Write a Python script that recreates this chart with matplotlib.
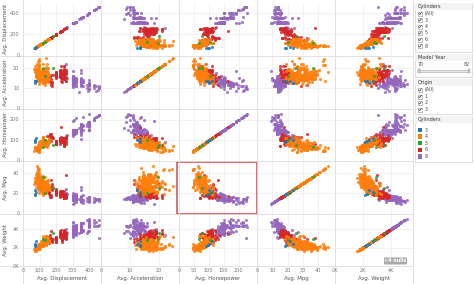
import matplotlib
matplotlib.use("Agg")
import matplotlib.pyplot as plt
from matplotlib.patches import Rectangle, FancyBboxPatch

# ---- data: (displacement, horsepower, weight, acceleration, mpg) per cylinder group ----
cars_3 = [(70, 97, 2330, 13.5, 19), (70, 90, 2124, 13.5, 18), (80, 110, 2720, 13.5, 21.5),
          (70, 100, 2420, 12.5, 23.7)]
cars_5 = [(131, 103, 2830, 15.9, 20.3), (183, 77, 3530, 20.1, 25.4), (121, 67, 2950, 19.9, 36.4)]
cars_8 = [
    (307, 130, 3504, 12.0, 18), (350, 165, 3693, 11.5, 15), (318, 150, 3436, 11.0, 18),
    (304, 150, 3433, 12.0, 16), (302, 140, 3449, 10.5, 17), (429, 198, 4341, 10.0, 15),
    (454, 220, 4354, 9.0, 14), (440, 215, 4312, 8.5, 14), (455, 225, 4425, 10.0, 14),
    (390, 190, 3850, 8.5, 15), (383, 170, 3563, 10.0, 15), (340, 160, 3609, 8.0, 14),
    (400, 150, 3761, 9.5, 15), (455, 225, 3086, 10.0, 14), (360, 215, 4615, 14.0, 10),
    (307, 200, 4376, 15.0, 10), (318, 210, 4382, 13.5, 11), (304, 193, 4732, 18.5, 9),
    (350, 165, 4209, 12.0, 14), (400, 175, 4464, 11.5, 14), (351, 153, 4154, 13.5, 14),
    (318, 150, 4096, 13.0, 14), (383, 180, 4955, 11.5, 12), (400, 170, 4746, 12.0, 13),
    (400, 175, 5140, 12.0, 13), (350, 165, 4274, 12.0, 13), (400, 175, 4385, 12.0, 14),
    (318, 150, 4135, 13.5, 15), (351, 153, 4129, 13.0, 14), (304, 150, 3672, 11.5, 17),
    (429, 208, 4633, 11.0, 11), (350, 155, 4502, 13.5, 13), (350, 160, 4456, 13.5, 12),
    (400, 190, 4422, 12.5, 13), (304, 150, 3892, 12.5, 15), (307, 130, 4098, 14.0, 13),
    (302, 140, 4294, 16.0, 13), (318, 150, 4077, 14.0, 14), (350, 175, 4100, 13.0, 13),
    (304, 150, 3672, 11.5, 14), (350, 145, 3988, 13.0, 13), (302, 137, 4042, 14.5, 14),
    (318, 150, 3777, 12.5, 15), (429, 198, 4952, 11.5, 12), (400, 150, 4464, 12.0, 13),
    (351, 158, 4363, 13.0, 13), (318, 150, 4237, 14.5, 14), (440, 215, 4735, 11.0, 13),
    (455, 225, 4951, 11.0, 12), (360, 175, 3821, 11.0, 13), (400, 150, 4997, 14.0, 11),
    (400, 167, 4906, 12.5, 12), (360, 170, 4654, 13.0, 13), (350, 180, 4499, 12.5, 12),
    (350, 145, 4082, 13.0, 15), (400, 230, 4278, 9.5, 16), (318, 150, 3399, 11.0, 15),
    (350, 180, 3664, 11.0, 11), (302, 140, 4141, 14.0, 16), (350, 150, 4699, 14.5, 13),
    (318, 150, 4457, 13.5, 14), (302, 140, 4638, 16.0, 14), (304, 150, 4257, 15.5, 14),
    (400, 170, 4668, 11.5, 16), (350, 145, 4440, 14.0, 15), (318, 150, 4498, 14.5, 16),
    (351, 148, 4657, 13.5, 14), (262, 110, 3221, 13.5, 20), (302, 129, 3169, 12.0, 13),
    (305, 140, 4215, 13.0, 17.5), (318, 150, 4190, 13.0, 16), (304, 120, 3962, 13.9, 15.5),
    (351, 152, 4215, 12.8, 14.5), (318, 150, 3940, 13.2, 13), (350, 180, 4380, 12.1, 16.5),
    (350, 145, 4055, 12.0, 13), (302, 130, 3870, 15.0, 13), (318, 150, 3755, 14.0, 13),
    (305, 145, 3880, 12.5, 17.5), (260, 110, 4060, 19.0, 17), (318, 145, 4140, 13.7, 15.5),
    (302, 130, 4295, 14.9, 15), (400, 180, 4220, 11.1, 16), (350, 170, 4165, 11.4, 15.5),
    (400, 190, 4325, 12.2, 15.5), (351, 149, 4335, 14.5, 16), (260, 110, 3365, 15.5, 19.9),
    (318, 140, 3735, 13.2, 19.4), (302, 139, 3570, 12.8, 20.2), (305, 145, 3425, 13.2, 19.2),
    (302, 139, 3205, 11.2, 18.1), (318, 140, 4080, 13.7, 17.5), (305, 130, 3840, 15.4, 17),
    (302, 129, 3725, 13.4, 17.6), (351, 138, 3955, 13.2, 16.5), (318, 135, 3830, 15.2, 18.2),
    (350, 155, 4360, 14.9, 16.9), (351, 142, 4054, 14.3, 15.5), (267, 125, 3605, 15.0, 19.2),
    (360, 150, 3940, 13.0, 18.5), (350, 125, 3900, 17.4, 23), (260, 90, 3420, 22.2, 23.9),
    (350, 105, 3725, 19.0, 26.6),
]
cars_6 = [
    (198, 95, 2833, 15.5, 22), (199, 97, 2774, 15.5, 18), (200, 85, 2587, 16.0, 21),
    (199, 90, 2648, 15.0, 21), (232, 100, 2634, 13.0, 19), (225, 105, 3439, 15.5, 16),
    (250, 100, 3329, 15.5, 17), (250, 88, 3302, 15.5, 19), (232, 100, 3288, 15.5, 18),
    (258, 110, 2962, 13.5, 18), (250, 100, 3282, 15.0, 19), (250, 88, 3139, 14.5, 18),
    (225, 105, 3121, 16.5, 18), (250, 100, 3278, 18.0, 16), (232, 100, 2945, 16.0, 18),
    (250, 88, 3021, 16.5, 18), (198, 95, 2904, 16.0, 23), (232, 100, 2789, 15.0, 18),
    (155, 107, 2472, 14.0, 21), (156, 122, 2807, 13.5, 20), (198, 95, 3102, 16.5, 20),
    (232, 100, 2901, 16.0, 19), (250, 100, 3336, 17.0, 15), (250, 100, 3781, 17.0, 16),
    (258, 110, 3632, 18.0, 16), (225, 105, 3613, 16.5, 18), (225, 95, 3264, 16.0, 19),
    (250, 105, 3459, 16.0, 18), (250, 72, 3432, 21.0, 15), (250, 72, 3158, 19.5, 15),
    (231, 110, 3907, 21.0, 17), (250, 105, 3897, 18.5, 16), (258, 110, 3730, 19.0, 15),
    (225, 95, 3785, 19.0, 18), (231, 110, 3039, 15.0, 21), (232, 100, 2914, 16.0, 20),
    (171, 97, 2984, 14.5, 18), (232, 90, 3211, 17.0, 19), (225, 100, 3233, 15.4, 22),
    (250, 105, 3353, 14.5, 22), (200, 81, 3012, 17.6, 24), (232, 90, 3085, 17.6, 22.5),
    (225, 100, 3651, 17.7, 20), (250, 78, 3574, 21.0, 18), (250, 110, 3645, 16.2, 18.5),
    (258, 95, 3193, 17.8, 17.5), (156, 108, 2930, 15.5, 19), (168, 120, 3820, 16.7, 16.5),
    (250, 110, 3520, 16.4, 17.5), (231, 105, 3425, 16.9, 20.5), (225, 100, 3630, 17.7, 19),
    (250, 98, 3525, 19.0, 18.5), (146, 97, 2815, 14.5, 22), (231, 105, 3535, 19.2, 19.2),
    (200, 95, 3155, 18.2, 20.5), (200, 85, 2965, 15.8, 20.2), (225, 100, 3430, 17.2, 20.5),
    (232, 90, 3210, 17.2, 19.4), (231, 105, 3380, 15.8, 20.6), (200, 85, 3070, 16.7, 20.8),
    (225, 110, 3620, 18.7, 18.6), (258, 120, 3410, 15.1, 18.1), (231, 165, 3445, 13.4, 17.7),
    (163, 125, 3140, 13.6, 17), (163, 133, 3410, 15.8, 16.2), (231, 115, 3245, 15.4, 21.5),
    (200, 85, 2990, 18.2, 19.8), (232, 90, 3265, 18.2, 20.2), (225, 110, 3360, 16.6, 20.6),
    (173, 115, 2595, 11.3, 28.8), (173, 115, 2700, 12.9, 26.8), (225, 90, 3381, 18.7, 19.1),
    (168, 132, 2910, 11.4, 32.7), (173, 110, 2725, 12.6, 23.5), (145, 76, 3160, 19.6, 30.7),
    (168, 116, 2900, 12.6, 25.4), (146, 120, 2930, 13.8, 24.2), (231, 110, 3415, 15.8, 22.4),
    (200, 88, 3060, 17.1, 20.2), (225, 85, 3465, 16.6, 17.6), (181, 110, 2945, 16.4, 25),
    (262, 85, 3015, 17.0, 38), (232, 112, 2835, 14.7, 22),
]
cars_4 = [
    (113, 95, 2372, 15.0, 24), (97, 88, 2130, 14.5, 27), (97, 46, 1835, 20.5, 26),
    (110, 87, 2672, 17.5, 25), (107, 90, 2430, 14.5, 24), (104, 95, 2375, 17.5, 25),
    (121, 113, 2234, 12.5, 26), (97, 88, 2130, 14.5, 27), (140, 90, 2264, 15.5, 28),
    (113, 95, 2228, 14.0, 25), (140, 72, 2408, 19.0, 22), (122, 86, 2220, 14.0, 23),
    (116, 90, 2123, 14.0, 28), (79, 70, 2074, 19.5, 30), (88, 76, 2065, 14.5, 30),
    (71, 65, 1773, 19.0, 31), (72, 69, 1613, 18.0, 35), (97, 60, 1834, 19.0, 27),
    (91, 70, 1955, 20.5, 26), (113, 95, 2278, 15.5, 24), (97.5, 80, 2126, 17.0, 25),
    (97, 54, 2254, 23.5, 23), (140, 90, 2408, 19.5, 20), (122, 86, 2226, 16.5, 21),
    (121, 112, 2933, 14.5, 18), (121, 76, 2511, 18.0, 22), (120, 87, 2979, 19.5, 21),
    (96, 69, 2189, 18.0, 26), (122, 86, 2395, 16.0, 22), (97, 92, 2288, 17.0, 28),
    (120, 97, 2506, 14.5, 23), (98, 80, 2164, 15.0, 28), (97, 88, 2100, 16.5, 27),
    (97, 46, 1950, 21.0, 26), (97, 88, 2279, 19.0, 20), (140, 72, 2401, 19.5, 21),
    (108, 94, 2379, 16.5, 22), (122, 85, 2310, 18.5, 19), (98, 90, 2265, 15.5, 26),
    (68, 49, 1867, 19.5, 29), (116, 75, 2158, 15.5, 24), (114, 91, 2582, 14.0, 20),
    (121, 112, 2868, 15.5, 19), (121, 110, 2660, 14.0, 24), (79, 67, 1950, 19.0, 31),
    (122, 80, 2451, 16.5, 26), (71, 65, 1836, 21.0, 32), (140, 75, 2542, 17.0, 25),
    (98, 83, 2219, 16.5, 29), (79, 67, 1963, 15.5, 26), (97, 78, 2300, 14.5, 26),
    (76, 52, 1649, 16.5, 31), (83, 61, 2003, 19.0, 32), (90, 75, 2125, 14.5, 28),
    (90, 75, 2108, 15.5, 24), (116, 75, 2246, 14.0, 26), (120, 97, 2489, 15.0, 24),
    (108, 93, 2391, 15.5, 26), (79, 67, 2000, 16.0, 31), (97, 75, 2171, 16.0, 29),
    (140, 83, 2639, 17.0, 23), (140, 78, 2592, 18.5, 23), (134, 96, 2702, 13.5, 24),
    (90, 71, 2223, 16.5, 25), (119, 97, 2545, 17.0, 24), (90, 70, 1937, 14.0, 29),
    (115, 95, 2694, 15.0, 23), (120, 88, 2957, 17.0, 23), (121, 98, 2945, 14.5, 22),
    (121, 115, 2671, 13.5, 25), (91, 53, 1795, 17.5, 33), (107, 86, 2464, 15.5, 28),
    (116, 81, 2220, 16.9, 25), (140, 92, 2572, 14.9, 25), (98, 79, 2255, 17.7, 26),
    (101, 83, 2202, 15.3, 27), (85, 52, 2035, 22.2, 29), (98, 60, 2164, 22.1, 24.5),
    (90, 70, 1937, 14.2, 29), (91, 53, 1795, 17.4, 33), (97, 71, 1825, 12.2, 29.5),
    (85, 70, 1990, 17.0, 32), (97, 75, 2155, 16.4, 28), (140, 72, 2565, 13.6, 26.5),
    (130, 102, 3150, 15.7, 20), (120, 88, 3270, 21.9, 19), (98, 68, 2045, 18.5, 31.5),
    (111, 80, 2155, 14.8, 30), (79, 58, 1825, 18.6, 36), (122, 96, 2300, 15.5, 25.5),
    (85, 70, 1945, 16.8, 33.5), (97, 78, 1940, 14.5, 29), (151, 88, 2740, 16.0, 24.5),
    (97, 75, 2265, 18.2, 26), (140, 89, 2755, 15.8, 25.5), (98, 63, 2051, 17.0, 30.5),
    (98, 83, 2075, 15.9, 33.5), (97, 67, 1985, 16.4, 30), (97, 78, 2190, 14.1, 30.5),
    (121, 110, 2600, 12.8, 21.5), (90, 48, 1985, 21.5, 43.1), (98, 66, 1800, 14.4, 36.1),
    (78, 52, 1985, 19.4, 32.8), (85, 70, 2070, 18.6, 39.4), (91, 60, 1800, 16.4, 36.1),
    (140, 88, 2720, 15.4, 25.1), (98, 68, 2155, 16.5, 30), (134, 95, 2560, 14.2, 27.5),
    (119, 97, 2300, 14.7, 27.2), (105, 75, 2230, 14.5, 30.9), (134, 95, 2515, 14.8, 21.1),
    (156, 105, 2745, 16.7, 23.2), (151, 85, 2855, 17.6, 23.8), (119, 97, 2405, 14.9, 23.9),
    (121, 115, 2795, 15.7, 21.6), (89, 71, 1990, 14.9, 31.5), (98, 68, 2135, 16.6, 29.5),
    (140, 88, 2890, 17.3, 22.3), (89, 71, 1925, 14.0, 31.9), (86, 65, 1975, 15.2, 34.1),
    (98, 80, 1915, 14.4, 35.7), (121, 80, 2670, 15.0, 27.4), (141, 71, 3190, 24.8, 27.2),
    (105, 70, 2200, 13.2, 34.2), (105, 70, 2150, 14.9, 34.5), (85, 65, 2020, 19.2, 31.8),
    (91, 69, 2130, 14.7, 37.3), (151, 90, 2670, 16.0, 28.4), (151, 90, 2556, 13.2, 33.5),
    (98, 76, 2144, 14.7, 41.5), (89, 60, 1968, 18.8, 38.1), (98, 70, 2120, 15.5, 32.1),
    (86, 65, 2019, 16.4, 37.2), (151, 90, 2678, 16.5, 28), (140, 88, 2870, 18.1, 26.4),
    (151, 90, 3003, 20.1, 24.3), (97, 78, 2188, 15.8, 34.3), (134, 90, 2711, 15.5, 29.8),
    (120, 75, 2542, 17.5, 31.3), (119, 92, 2434, 15.0, 37), (108, 75, 2265, 15.2, 32.2),
    (86, 65, 2110, 17.9, 46.6), (156, 105, 2800, 14.4, 27.9), (85, 65, 2110, 19.2, 40.8),
    (90, 48, 2085, 21.7, 44.3), (90, 48, 2335, 23.7, 43.4), (146, 67, 3250, 21.8, 30),
    (91, 67, 1850, 13.8, 44.6), (97, 67, 2145, 18.0, 33.8), (89, 62, 1845, 15.3, 29.8),
    (122, 88, 2500, 15.1, 35), (107, 72, 2290, 17.0, 32.4), (135, 84, 2490, 15.7, 27.2),
    (151, 84, 2635, 16.4, 26.6), (156, 92, 2620, 14.4, 25.8), (135, 84, 2385, 12.9, 30),
    (79, 58, 1755, 16.9, 39.1), (86, 64, 1875, 16.4, 39), (81, 60, 1760, 16.1, 35.1),
    (97, 67, 2065, 17.8, 32.3), (85, 65, 1975, 19.4, 37), (89, 62, 2050, 17.3, 37.7),
    (91, 68, 1985, 16.0, 34.1), (105, 63, 2215, 14.9, 34.7), (98, 65, 2045, 16.2, 34.4),
    (98, 65, 2380, 20.7, 29.9), (105, 74, 2190, 14.2, 33), (107, 75, 2210, 14.4, 33.7),
    (108, 75, 2350, 16.8, 32.4), (119, 100, 2615, 14.8, 32.9), (120, 74, 2635, 18.3, 31.6),
    (141, 80, 3230, 20.4, 28.1), (112, 88, 2605, 19.6, 28), (112, 88, 2640, 18.6, 27),
    (112, 88, 2395, 18.0, 34), (112, 85, 2575, 16.2, 31), (135, 84, 2525, 16.0, 29),
    (151, 90, 2735, 18.0, 27), (140, 92, 2865, 16.4, 24), (105, 74, 1980, 15.3, 36),
    (91, 68, 2025, 18.2, 37), (91, 68, 1970, 17.6, 31), (105, 63, 2125, 14.7, 38),
    (98, 70, 2125, 17.3, 36), (120, 88, 2160, 14.5, 36), (107, 75, 2205, 14.5, 36),
    (108, 70, 2245, 16.9, 34), (91, 67, 1965, 15.0, 38), (91, 67, 1965, 15.7, 32),
    (91, 67, 1995, 16.2, 38), (156, 92, 2585, 14.5, 26), (144, 96, 2665, 13.9, 32),
    (135, 84, 2370, 13.0, 36), (151, 90, 2950, 17.3, 27), (140, 86, 2790, 15.6, 27),
    (97, 52, 2130, 24.6, 44), (135, 84, 2295, 11.6, 32), (120, 79, 2625, 18.6, 28),
    (119, 82, 2720, 19.4, 31),
]

cyl_labels = ["3", "4", "5", "6", "8"]
cyl_colors = ["#1f77b4", "#ff7f0e", "#2ca02c", "#d62728", "#9467bd"]
fields = ["Displacement", "Acceleration", "Horsepower", "Mpg", "Weight"]
field_index = {"Displacement": 0, "Horsepower": 1, "Weight": 2, "Acceleration": 3, "Mpg": 4}
x_ticks = {"Displacement": [0, 100, 200, 300, 400], "Acceleration": [0, 10, 20],
           "Horsepower": [0, 50, 100, 150, 200], "Mpg": [0, 10, 20, 30, 40],
           "Weight": [0, 2000, 4000]}
y_ticks = {"Displacement": [0, 200, 400], "Acceleration": [0, 10, 20],
           "Horsepower": [0, 100, 200], "Mpg": [0, 20, 40], "Weight": [0, 2000, 4000]}
x_lims = {"Displacement": (0, 470), "Acceleration": (0, 27), "Horsepower": (0, 262),
          "Mpg": (0, 51), "Weight": (0, 5600)}
y_lims = {"Displacement": (0, 495), "Acceleration": (0, 26), "Horsepower": (0, 255),
          "Mpg": (0, 52), "Weight": (0, 5700)}
filter_cyl = ["(All)", "3", "4", "5", "6", "8"]
filter_origin = ["(All)", "1", "2", "3"]
year_range = ("70", "82")

# ---- layout (pixels) ----
W, H = 474, 284
fig = plt.figure(figsize=(W / 100, H / 100), dpi=100)
fig.patch.set_facecolor("white")
col_left = [23, 101, 179, 257, 335]
col_w = 78
row_top = [3, 56, 108.5, 161, 213.5]
row_h = 52.5


def rect(x, y, w, h):
    return [x / W, 1 - (y + h) / H, w / W, h / H]


def tick_fmt(field, v):
    if field == "Weight":
        return f"{int(v / 1000)}K"
    return f"{v:g}"


groups = [(cars_8, 4), (cars_6, 3), (cars_4, 1), (cars_5, 2), (cars_3, 0)]
grid_c = "#ededed"
for i, fy in enumerate(fields):
    for j, fx in enumerate(fields):
        ax = fig.add_axes(rect(col_left[j], row_top[i], col_w, row_h))
        ax.set_xlim(*x_lims[fx])
        ax.set_ylim(*y_lims[fy])
        for v in x_ticks[fx][1:]:
            ax.axvline(v, color=grid_c, lw=0.5, zorder=0)
        for v in y_ticks[fy][1:]:
            ax.axhline(v, color=grid_c, lw=0.5, zorder=0)
        for data, ci in groups:
            xs = [r[field_index[fx]] for r in data]
            ys = [r[field_index[fy]] for r in data]
            ax.scatter(xs, ys, s=5.0, color=cyl_colors[ci], alpha=0.85,
                       linewidths=0, zorder=2)
        ax.set_xticks([])
        ax.set_yticks([])
        for sp in ax.spines.values():
            sp.set_visible(False)
        ax.patch.set_alpha(0)

# ---- overlay for dividers, labels, annotations, side panel ----
ov = fig.add_axes([0, 0, 1, 1])
ov.set_xlim(0, W)
ov.set_ylim(H, 0)
ov.axis("off")
ov.patch.set_alpha(0)

div_c = "#dcdcdc"
right_edge = col_left[-1] + col_w
bottom_edge = row_top[-1] + row_h
for x in col_left + [right_edge]:
    ov.plot([x, x], [0, H], color=div_c, lw=0.6)
for y in row_top[1:] + [bottom_edge]:
    ov.plot([0, right_edge], [y, y], color=div_c, lw=0.6)

tick_c = "#777777"
lab_c = "#555555"
for j, fx in enumerate(fields):
    lo, hi = x_lims[fx]
    for v in x_ticks[fx]:
        px = col_left[j] + (v - lo) / (hi - lo) * col_w
        ov.text(px, 270.5, tick_fmt(fx, v), fontsize=3.6, color=tick_c,
                ha="center", va="center")
    ov.text(col_left[j] + col_w / 2, 278.5, "Avg. " + fx, fontsize=3.9,
            color=lab_c, ha="center", va="center")
for i, fy in enumerate(fields):
    lo, hi = y_lims[fy]
    for v in y_ticks[fy]:
        py = row_top[i] + row_h - (v - lo) / (hi - lo) * row_h
        ov.text(19.5, py, tick_fmt(fy, v), fontsize=3.6, color=tick_c,
                ha="right", va="center")
    ov.text(6, row_top[i] + row_h / 2, "Avg. " + fy, fontsize=3.9, color=lab_c,
            ha="center", va="center", rotation=90)

# highlight rectangle
ov.add_patch(Rectangle((177.5, 161.5), 79.5, 52.5, fill=False, ec="#c4514f", lw=1.1))

# nulls badge
ov.add_patch(FancyBboxPatch((384, 257.5), 23, 7, boxstyle="round,pad=0,rounding_size=1",
                            fc="#a9a9a9", ec="none"))
ov.text(395.5, 261, "<4 nulls", fontsize=3.5, color="white", ha="center",
        va="center", fontweight="bold")

# ---- side panel ----
card_x, card_w = 415, 57
title_c = "#333333"
text_c = "#444444"


def card(y, h, title):
    ov.add_patch(Rectangle((card_x, y), card_w, h, fc="white", ec="#d0d0d0", lw=0.5))
    ov.add_patch(Rectangle((card_x, y), card_w, 7, fc="#f3f3f3", ec="none"))
    ov.text(card_x + 3, y + 3.7, title, fontsize=3.6, color=title_c, ha="left",
            va="center")


def checkbox(y, label):
    ov.add_patch(Rectangle((418, y - 2), 4, 4, fc="white", ec="#8a8a8a", lw=0.4))
    ov.plot([418.8, 419.8, 421.3], [y, y + 1.2, y - 1.3], color="#333333", lw=0.45)
    ov.text(424.5, y, label, fontsize=3.4, color=text_c, ha="left", va="center")


card(3, 49, "Cylinders")
for k, lab in enumerate(filter_cyl):
    checkbox(13.5 + k * 6.5, lab)

card(54, 23, "Model Year")
ov.text(418, 64.5, year_range[0], fontsize=3.4, color=text_c, ha="left", va="center")
ov.text(469.5, 64.5, year_range[1], fontsize=3.4, color=text_c, ha="right", va="center")
ov.add_patch(Rectangle((418.5, 69.8), 51, 2.2, fc="#e6e6e6", ec="#a8a8a8", lw=0.4))
ov.add_patch(Rectangle((418.0, 69.0), 1.6, 3.8, fc="#cfcfcf", ec="#888888", lw=0.3))
ov.add_patch(Rectangle((468.4, 69.0), 1.6, 3.8, fc="#cfcfcf", ec="#888888", lw=0.3))

card(79, 35, "Origin")
for k, lab in enumerate(filter_origin):
    checkbox(90 + k * 6.5, lab)

card(116, 46, "Cylinders")
for k, lab in enumerate(cyl_labels):
    y = 130 + k * 6.6
    ov.add_patch(Rectangle((418, y - 2.2), 4.4, 4.4, fc=cyl_colors[k], ec="none"))
    ov.text(424.5, y, lab, fontsize=3.4, color=text_c, ha="left", va="center")

fig.savefig("out.png", dpi=100, facecolor="white")
